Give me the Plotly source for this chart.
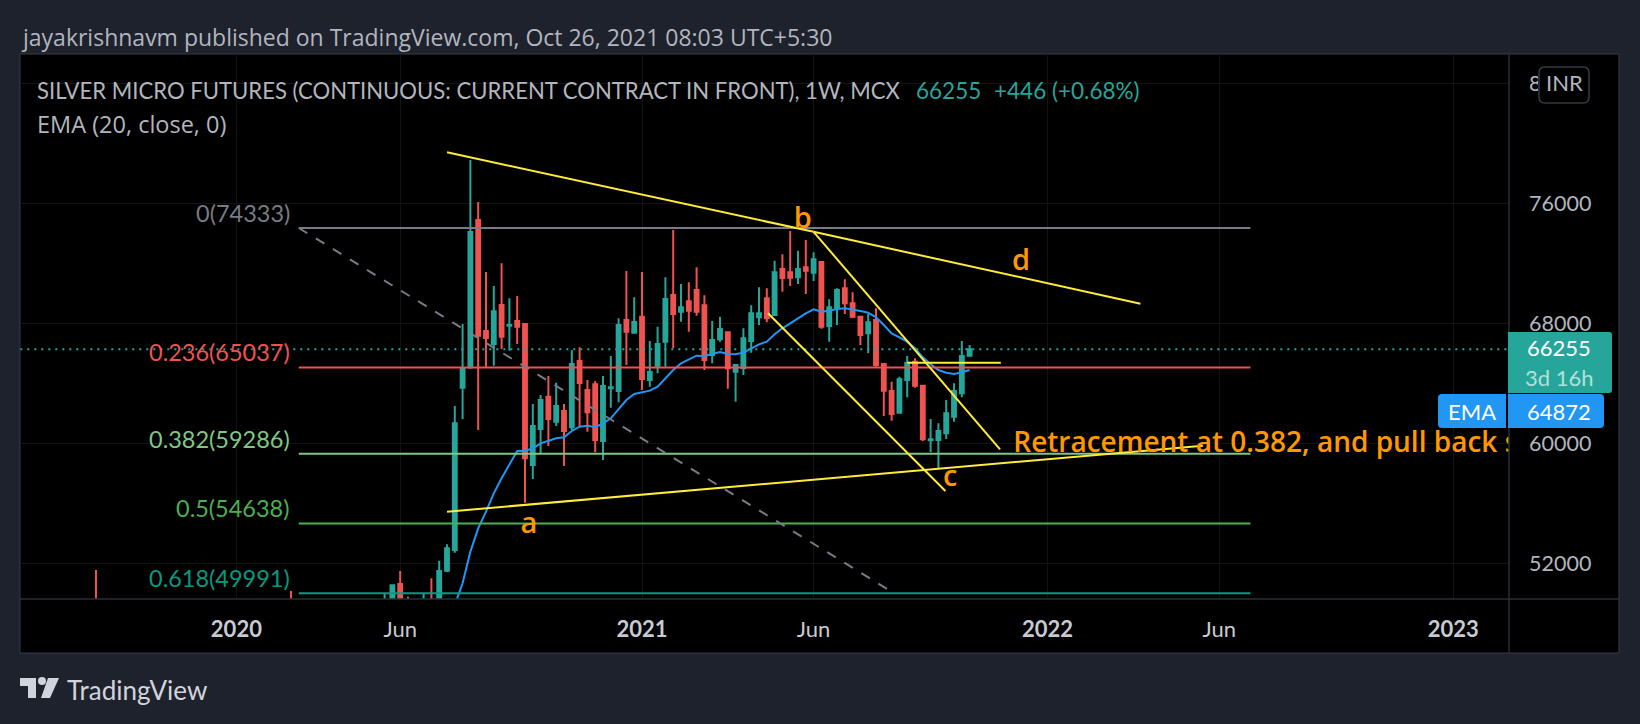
import pandas as pd
import plotly.graph_objects as go

# ---------- data ----------
base_week = pd.Timestamp("2021-01-04")
bar_week = [-70, -45, -33, -32, -31, -30, -29, -28, -27, -26, -25, -24, -23, -22, -21, -20, -19, -18, -17, -16, -15,
            -14, -13, -12, -11, -10, -9, -8, -7, -6, -5, -4, -3, -2, -1, 0, 1, 2, 3, 4, 5, 6, 7, 8, 9, 10, 11, 12, 13,
            14, 15, 16, 17, 18, 19, 20, 21, 22, 23, 24, 25, 26, 27, 28, 29, 30, 31, 32, 33, 34, 35, 36, 37, 38, 39,
            40, 41, 42]
bar_open = [49300, 49400, 48500, 48900, 50600, 49300, 49000, 49000, 49500, 49300, 51490, 52868, 63689, 65045, 74867,
            67468, 66600, 69200, 67823, 68133, 67934, 58534, 60934, 63089, 61422, 62134, 61045, 65467, 63534, 63911,
            60134, 63645, 63467, 68200, 67356, 68423, 64200, 65156, 66756, 69867, 68756, 69445, 70200, 69178, 65867,
            66912, 67378, 64756, 64978, 66800, 68378, 69645, 68534, 71600, 71378, 71045, 71711, 71356, 72067, 67800,
            68978, 70311, 69311, 68423, 67312, 68201, 65268, 63468, 62023, 64200, 65422, 63822, 60178, 60200, 60645,
            61756, 63311, 65809]
bar_high = [51534, 50134, 49934, 50578, 51467, 49756, 49400, 49934, 50978, 52156, 53246, 62467, 67934, 78867, 76067,
            71400, 70467, 71978, 69645, 69800, 67934, 62600, 63200, 64467, 64022, 62600, 66200, 66378, 64200, 64134,
            64467, 65800, 68312, 71467, 69711, 71400, 66800, 67756, 71045, 74200, 70600, 70712, 71712, 69845, 68134,
            68423, 67378, 65268, 67645, 69178, 70378, 70312, 72156, 72578, 74134, 72822, 73533, 72711, 72067, 69578,
            70311, 70911, 70045, 68423, 68600, 68978, 65268, 64090, 64423, 65800, 65645, 63822, 61600, 61311, 62867,
            63978, 66800, 66533]
bar_low = [48000, 48000, 48000, 48500, 48300, 48500, 48300, 48500, 48600, 49000, 51400, 52690, 61600, 64950, 60867,
           65045, 65156, 66268, 66157, 66600, 56023, 57600, 59312, 59800, 61134, 58467, 60850, 61045, 60756, 59378,
           58867, 62356, 62712, 65201, 67300, 63535, 63756, 64645, 65090, 66312, 68090, 67423, 68490, 64867, 65312,
           66756, 63624, 62757, 64534, 66023, 67867, 68045, 68500, 70089, 70467, 70600, 69934, 70800, 67623, 66756,
           67867, 68600, 68312, 66534, 65979, 65090, 61801, 61490, 62000, 63045, 63689, 60134, 59378, 58312, 60267,
           61422, 63045, 65756]
bar_close = [48500, 48800, 49300, 50512, 48700, 48900, 48600, 49400, 49000, 51467, 52978, 61311, 64978, 74067, 67157,
             67000, 68778, 67090, 67868, 67756, 58978, 61134, 62867, 61600, 62467, 60800, 65267, 64000, 62045, 60200,
             63800, 63711, 67867, 67423, 68067, 64267, 64734, 66600, 69600, 68600, 69045, 68823, 68756, 65534, 66867,
             67601, 64978, 65201, 66978, 68645, 68645, 68312, 71378, 71000, 71023, 71600, 71489, 72245, 67756, 69045,
             70200, 69311, 68423, 67201, 68045, 65201, 63490, 61935, 64245, 65356, 63822, 60245, 60245, 60800, 61978,
             63467, 65800, 66255]

ema_week = [-24, -23, -22, -21, -20, -19, -18, -17, -16, -15, -14, -13, -12, -11, -10, -9, -8, -7, -6, -5, -4, -3, -2,
            -1, 0, 1, 2, 3, 4, 5, 6, 7, 8, 9, 10, 11, 12, 13, 14, 15, 16, 17, 18, 19, 20, 21, 22, 23, 24, 25, 26, 27,
            28, 29, 30, 31, 32, 33, 34, 35, 36, 37, 38, 39, 40, 41, 42]
ema_value = [49200, 50645, 52757, 54312, 55423, 56645, 57645, 58534, 59467, 59467, 59645, 59978, 60156, 60311, 60378,
             60800, 61089, 61157, 61050, 61312, 61645, 62245, 62868, 63268, 63356, 63490, 63756, 64312, 64867, 65312,
             65578, 65823, 65800, 65934, 66067, 65934, 65912, 66023, 66312, 66578, 66756, 67245, 67645, 67978, 68356,
             68645, 68912, 68756, 68823, 68934, 68978, 68912, 68800, 68690, 68378, 67867, 67312, 67045, 66756, 66311,
             65711, 65245, 64867, 64689, 64600, 64711, 64872]

last_price = 66255
fib_labels = ["0(74333)", "0.236(65037)", "0.382(59286)", "0.5(54638)", "0.618(49991)"]
fib_levels = [74333, 65037, 59286, 54638, 49991]
fib_colors = ["#787b86", "#ef5350", "#81c784", "#4caf50", "#089981"]
fib_start_week, fib_end_week = -44, 78
fib_diag_weeks = [-44, 32.3]
fib_diag_values = [74333, 49991]

trend_lines = [
    ([-25, 22], [79380, 74080]),
    ([22, 63.9], [74080, 69287]),
    ([22, 45.9], [74080, 59578]),
    ([16.15, 38.9], [68645, 56800]),
    ([-25, 71.9], [55420, 59820]),
    ([34, 46], [65353, 65353]),
]
wave_labels = ["a", "b", "c", "d"]
wave_weeks = [-14.5, 20.6, 39.5, 48.6]
wave_values = [54500, 74800, 57600, 72000]

y_ticks = [52000, 60000, 68000, 76000, 84000]
x_tick_weeks = [-52, -31, 0, 22, 52, 74, 104]
x_tick_text = ["<b>2020</b>", "Jun", "<b>2021</b>", "Jun", "<b>2022</b>", "Jun", "<b>2023</b>"]

# ---------- style ----------
FONT = "Lato"
WIDE = "Open Sans"
UP, DOWN = "#26a69a", "#ef5350"
PAGE = "#1e222d"
L, R, T, B = 20, 1509, 54, 599


def when(weeks):
    return [base_week + pd.Timedelta(days=7 * w) for w in weeks]


def px(x):
    return (x - L) / (R - L)


def py(y):
    return (B - y) / (B - T)


def rounded(x0, y0, x1, y1, r=4, corners=(1, 1, 1, 1)):
    tl, tr, br, bl = [r * c for c in corners]
    X0, X1, Y0, Y1 = px(x0), px(x1), py(y0), py(y1)
    dx, dy = 1 / (R - L), 1 / (B - T)
    return (f"M{X0 + tl*dx},{Y0} L{X1 - tr*dx},{Y0} Q{X1},{Y0} {X1},{Y0 - tr*dy} "
            f"L{X1},{Y1 + br*dy} Q{X1},{Y1} {X1 - br*dx},{Y1} L{X0 + bl*dx},{Y1} Q{X0},{Y1} {X0},{Y1 + bl*dy} "
            f"L{X0},{Y0 - tl*dy} Q{X0},{Y0} {X0 + tl*dx},{Y0} Z")


def label(x, y, text, color, size, anchor="left", family=FONT):
    return dict(xref="paper", yref="paper", x=px(x), y=py(y), text=text, showarrow=False, xanchor=anchor,
                yanchor="middle", borderpad=0, font=dict(family=family, size=size, color=color))


fig = go.Figure()
fig.add_trace(go.Candlestick(
    x=when(bar_week), open=bar_open, high=bar_high, low=bar_low, close=bar_close, whiskerwidth=0,
    increasing=dict(line=dict(color=UP, width=2), fillcolor=UP),
    decreasing=dict(line=dict(color=DOWN, width=2), fillcolor=DOWN), hoverinfo="skip"))
fig.add_trace(go.Scatter(x=when(ema_week), y=ema_value, mode="lines", line=dict(color="#2196f3", width=2),
                         hoverinfo="skip"))
fig.add_trace(go.Scatter(x=when([-79.7, 111.1]), y=[last_price, last_price], mode="lines",
                         line=dict(color=UP, width=2, dash="2px,5px"), hoverinfo="skip"))
for level, color in zip(fib_levels, fib_colors):
    fig.add_trace(go.Scatter(x=when([fib_start_week, fib_end_week]), y=[level, level], mode="lines",
                             line=dict(color=color, width=2), hoverinfo="skip"))
fig.add_trace(go.Scatter(x=when(fib_diag_weeks), y=fib_diag_values, mode="lines",
                         line=dict(color="#787b86", width=2, dash="10px,10px"), hoverinfo="skip"))
for wk, val in trend_lines:
    fig.add_trace(go.Scatter(x=when(wk), y=val, mode="lines", line=dict(color="#ffeb3b", width=2), hoverinfo="skip"))
fig.add_trace(go.Scatter(x=when(wave_weeks), y=wave_values, mode="text", text=wave_labels, textposition="middle center",
                         textfont=dict(family=WIDE, size=29, color="#ff9800", weight=600), hoverinfo="skip"))
fig.add_trace(go.Scatter(x=when([47.6]), y=[68000 - (445 - 323) / 0.015], mode="text",
                         text=["Retracement at 0.382, and pull back s"], textposition="middle right",
                         cliponaxis=True, textfont=dict(family=WIDE, size=28, color="#ff9800", weight=600),
                         hoverinfo="skip"))

annotations = [
    label(20, 37, "jayakrishnavm published on TradingView.com, Oct 26, 2021 08:03 UTC+5:30", "#b2b5be", 23, family=WIDE),
    label(36, 90, "SILVER MICRO FUTURES (CONTINUOUS: CURRENT CONTRACT IN FRONT), 1W, MCX", "#b2b5be", 22.1),
    label(915, 90, "66255", UP, 22.5),
    label(993, 90, "+446 (+0.68%)", UP, 22.5),
    label(36, 124, "EMA (20, close, 0)", "#b2b5be", 23.5, family=WIDE),
    label(1564, 83, "INR", "#b2b5be", 22, "center"),
    label(1559, 348, "66255", "#ffffff", 22, "center"),
    label(1559, 377, "3d 16h", "#b2e0da", 22, "center"),
    label(1472, 411, "EMA", "#ffffff", 22, "center"),
    label(1559, 411, "64872", "#ffffff", 22, "center"),
    label(66, 690, "TradingView", "#d1d4dc", 26),
]
for text, level, color in zip(fib_labels, fib_levels, fib_colors):
    annotations.append(dict(xref="x", yref="y", x=when([-45.0])[0], y=level, yshift=15, text=text, showarrow=False,
                            xanchor="right", yanchor="middle", borderpad=0,
                            font=dict(family=FONT, size=23.5, color=color)))


def box(x0, y0, x1, y1, fill, line=None, layer="above"):
    return dict(type="rect", xref="paper", yref="paper", x0=px(x0), x1=px(x1), y0=py(y1), y1=py(y0),
                fillcolor=fill, line=dict(color=line or fill, width=1 if line else 0), layer=layer)


def rpath(path, fill, line=None):
    return dict(type="path", xref="paper", yref="paper", path=path, fillcolor=fill,
                line=dict(color=line or fill, width=1.5 if line else 0), layer="above")


LOGO = "#d1d4dc"
shapes = [
    box(20, 54, 1619, 653, "#000000", "#363a45", "below"),
    dict(type="line", xref="paper", yref="paper", x0=px(1509), x1=px(1509), y0=py(54), y1=py(653),
         line=dict(color="#2a2e39", width=1.5), layer="above"),
    dict(type="line", xref="paper", yref="paper", x0=px(20), x1=px(1619), y0=py(599), y1=py(599),
         line=dict(color="#2a2e39", width=1.5), layer="above"),
    box(1538, 62, 1594, 106, "#000000"),
    rpath(rounded(1539, 67, 1589, 103, 6), "#000000", "#363a45"),
    rpath(rounded(1508, 332, 1612, 393, 3, (0, 1, 1, 0)), UP),
    rpath(rounded(1438, 394, 1506, 428, 4, (1, 0, 0, 1)), "#2196f3"),
    rpath(rounded(1508, 394, 1604, 428, 4, (0, 1, 1, 0)), "#2196f3"),
    # TradingView mark
    rpath(f"M{px(20)},{py(678)} L{px(36)},{py(678)} L{px(36)},{py(698)} L{px(28)},{py(698)} L{px(28)},{py(686)} "
          f"L{px(20)},{py(686)} Z", LOGO),
    dict(type="circle", xref="paper", yref="paper", x0=px(38), x1=px(46), y0=py(685), y1=py(677),
         fillcolor=LOGO, line=dict(width=0), layer="above"),
    rpath(f"M{px(48)},{py(678)} L{px(59)},{py(678)} L{px(50)},{py(698)} L{px(41)},{py(698)} Z", LOGO),
]

fig.update_layout(
    width=1640, height=724, autosize=False, showlegend=False, hovermode=False, paper_bgcolor=PAGE,
    plot_bgcolor="rgba(0,0,0,0)", margin=dict(l=L, r=1640 - R, t=T, b=724 - B, autoexpand=False),
    annotations=annotations, shapes=shapes,
    xaxis=dict(type="date", range=when([-79.74, 111.15]), rangeslider=dict(visible=False), tickmode="array",
               tickvals=when(x_tick_weeks), ticktext=x_tick_text, ticks="", showline=False, zeroline=False,
               showgrid=True, gridcolor="#131313", gridwidth=1, ticklabelstandoff=15,
               tickfont=dict(family=FONT, size=22, color="#c8cad2")),
    yaxis=dict(range=[49600, 85933], side="right", tickmode="array", tickvals=y_ticks,
               ticktext=[str(v) for v in y_ticks], ticks="", showline=False, zeroline=False, showgrid=True,
               gridcolor="#131313", gridwidth=1, ticklabelstandoff=19,
               tickfont=dict(family=FONT, size=21.5, color="#b2b5be")),
)
fig.write_html("out.html", config=dict(displayModeBar=False),
               post_script="document.body.style.margin='0';document.body.style.background='#1e222d';")
